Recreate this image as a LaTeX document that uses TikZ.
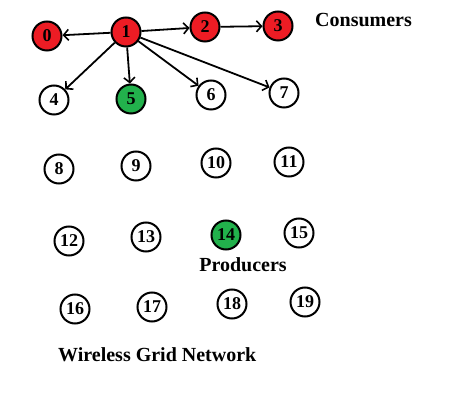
\documentclass[tikz,border=0pt]{standalone}
\usepackage{fontspec}
\setmainfont{Liberation Serif}
\usetikzlibrary{arrows.meta,positioning}
\definecolor{WGRed}{HTML}{ED1C24}
\definecolor{WGGreen}{HTML}{22B14C}
\begin{document}
\begin{tikzpicture}[x=1pt,y=-1pt,
  wnode/.style={draw=black,line width=2pt,circle,minimum size=29pt,inner sep=0pt,
    font=\fontsize{18}{18}\selectfont\bfseries,fill=white},
  consumer/.style={wnode,fill=WGRed},
  producer/.style={wnode,fill=WGGreen},
  wlabel/.style={font=\fontsize{20}{22}\selectfont\bfseries,inner sep=0pt},
  flow/.style={line width=1.8pt,-{Straight Barb[length=5pt,width=11pt,line width=1.6pt]}}]
\useasboundingbox (0,0) rectangle (474,419);
% consumers and first row
\node[consumer] (n0) at (47,36) {0};
\node[consumer] (n1) at (126,32) {1};
\node[consumer] (n2) at (205,27) {2};
\node[consumer] (n3) at (278,26) {3};
\node[wnode] (n4) at (54,100) {4};
\node[producer] (n5) at (131,99) {5};
\node[wnode] (n6) at (211,95) {6};
\node[wnode] (n7) at (284,93) {7};
% grid
\node[wnode] (n8) at (59,169) {8};
\node[wnode] (n9) at (136,166) {9};
\node[wnode] (n10) at (216,163) {10};
\node[wnode] (n11) at (289,162) {11};
\node[wnode] (n12) at (69,241) {12};
\node[wnode] (n13) at (146,237) {13};
\node[producer] (n14) at (226,235) {14};
\node[wnode] (n15) at (299,233) {15};
\node[wnode] (n16) at (75,309) {16};
\node[wnode] (n17) at (152,307) {17};
\node[wnode] (n18) at (232,304) {18};
\node[wnode] (n19) at (305,302) {19};
% labels
\node[wlabel,anchor=west] (cons) at (315,20) {Consumers};
\node[wlabel] (prod) at (243,265) {Producers};
\node[wlabel,anchor=west] (title) at (58,355) {Wireless Grid Network};
% interests
\draw[flow] (n1) -- (n0);
\draw[flow] (n1) -- (n2);
\draw[flow] (n2) -- (n3);
\draw[flow] (n1) -- (n4);
\draw[flow] (n1) -- (n5);
\draw[flow] (n1) -- (n6);
\draw[flow] (n1) -- (n7);
\end{tikzpicture}
\end{document}
